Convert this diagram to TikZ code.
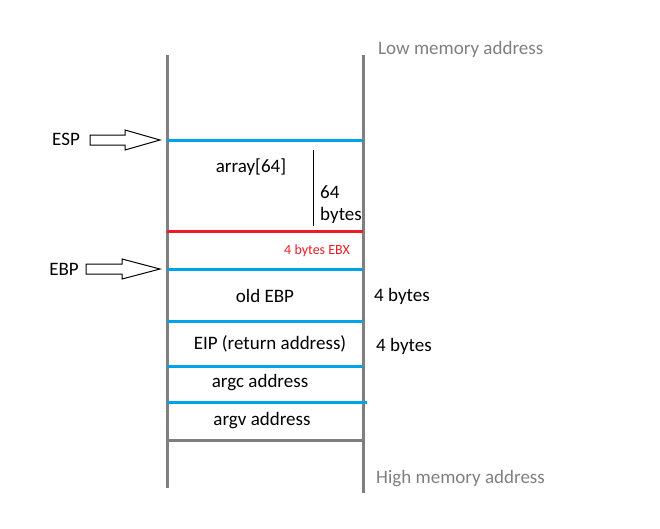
\documentclass[tikz,border=0pt]{standalone}
\usepackage{fontspec}
\setmainfont{Carlito}
\definecolor{sblue}{RGB}{0,162,232}
\definecolor{sred}{RGB}{237,28,36}
\definecolor{sgray}{RGB}{127,127,127}
\begin{document}
\begin{tikzpicture}[x=1pt,y=-1pt,
  wall/.style={line width=3pt,draw=sgray},
  slot/.style={line width=3pt,draw=sblue},
  txt/.style={font=\fontsize{19}{22}\selectfont,inner sep=0pt},
  gtxt/.style={font=\fontsize{19}{22}\selectfont,inner sep=0pt,text=sgray},
  barrow/.style={draw=black,fill=white,line width=1pt}]
\useasboundingbox (0,0) rectangle (660,528);
\coordinate (l1) at (167,55); \coordinate (l2) at (167,488);
\coordinate (r1) at (363,55); \coordinate (r2) at (363,493);
\draw[wall] (l1) -- (l2);
\draw[wall] (r1) -- (r2);
\draw[slot] (167,140) -- (363,140);
\draw[line width=3pt,draw=sred] (167,231) -- (363,231);
\draw[slot] (167,269) -- (363,269);
\draw[slot] (167,321) -- (363,321);
\draw[slot] (167,366) -- (363,366);
\draw[slot] (167,402) -- (367,402);
\draw[wall] (167,440) -- (363,440);
\draw[line width=1pt] (313,150) -- (313,226);
\node[gtxt,anchor=west] (low) at (378,49) {Low memory address};
\node[gtxt,anchor=west] (high) at (376,479) {High memory address};
\node[txt] (arr) at (251,167) {array[64]};
\node[txt,anchor=west] (n64) at (320,192) {64};
\node[txt,anchor=west] (nb) at (320,215) {bytes};
\node[font=\fontsize{14}{16}\selectfont,text=sred,inner sep=0pt] (ebx) at (317,251) {4 bytes EBX};
\node[txt] (oebp) at (265,296) {old EBP};
\node[txt,anchor=west] (b1) at (374,296) {4 bytes};
\node[txt] (eip) at (270,344) {EIP (return address)};
\node[txt,anchor=west] (b2) at (376,346) {4 bytes};
\node[txt] (argc) at (260,383) {argc address};
\node[txt] (argv) at (262,421) {argv address};
\node[txt] (esp) at (66,139) {ESP};
\node[txt] (ebp) at (64,269) {EBP};
\draw[barrow] (90,135) -- (125,135) -- (125,130) -- (160,140) -- (125,150) -- (125,145) -- (90,145) -- cycle;
\draw[barrow] (86,264) -- (122,264) -- (122,259) -- (160,269) -- (122,279) -- (122,274) -- (86,274) -- cycle;
\end{tikzpicture}
\end{document}
